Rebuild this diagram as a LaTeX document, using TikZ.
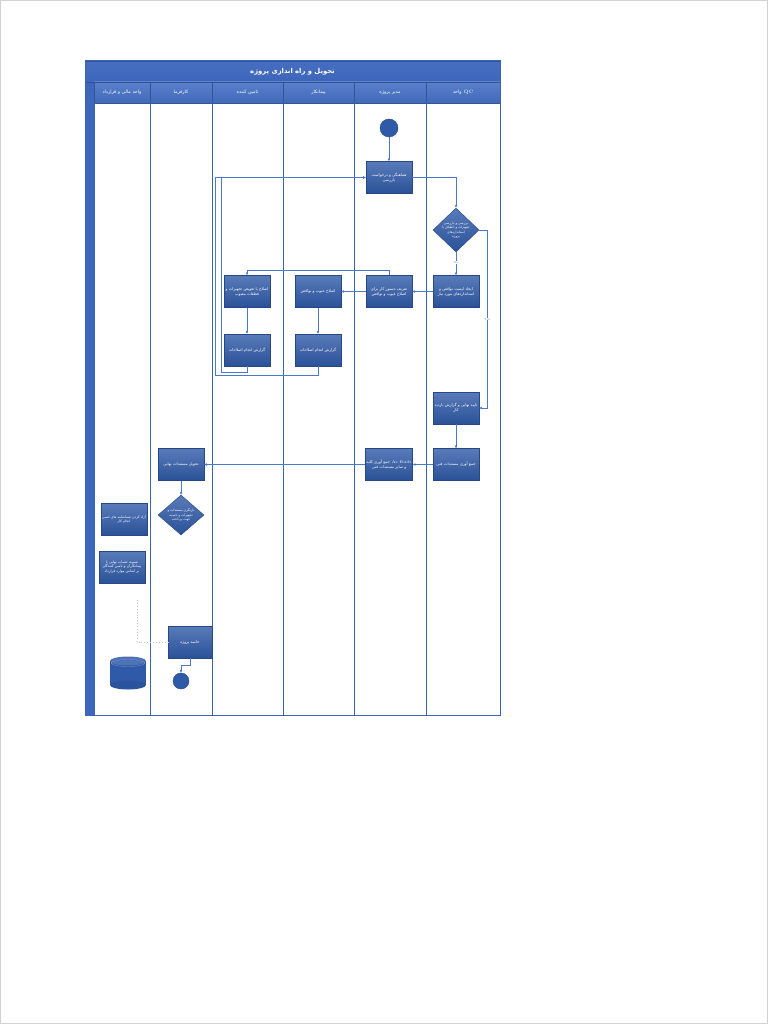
\documentclass[tikz,border=0pt]{standalone}
\usepackage{fontspec}
\usetikzlibrary{shapes.geometric,arrows.meta}
\newfontfamily\arabicfont[Script=Arabic]{DejaVu Sans}
\TeXXeTstate=1
\newcommand{\fa}[1]{{\arabicfont\beginR #1\endR}}
\definecolor{poolblue}{HTML}{3D66BC}
\definecolor{boxblue}{HTML}{2F5AA8}
\definecolor{linkblue}{HTML}{4A78CC}
\definecolor{laneline}{HTML}{3B64B5}
\definecolor{headtop}{HTML}{5A80CC}
\definecolor{headbot}{HTML}{4169B8}

\begin{document}
\begin{tikzpicture}[x=1pt,y=-1pt,
					every node/.style={text=white,align=center,inner sep=1pt,font=\fontsize{3.9}{5}\selectfont},
					box/.style={rectangle,draw=boxblue!80!black,top color=boxblue!80!white,bottom color=boxblue!90!black,minimum width=46pt,minimum height=32pt},
					decision/.style={diamond,draw=boxblue!80!black,top color=boxblue!80!white,bottom color=boxblue!90!black,minimum width=46pt,minimum height=44pt,aspect=1.05,inner sep=0pt,font=\fontsize{3.3}{4.3}\selectfont},
					terminal/.style={circle,draw=boxblue!80!black,fill=boxblue,minimum size=18pt},
					header/.style={rectangle,draw=headbot!80!black,top color=headtop,bottom color=headbot,minimum height=21pt,font=\fontsize{4.7}{5.3}\selectfont},
					answer/.style={text=gray,fill=white,inner sep=0.4pt,font=\fontsize{3}{3.5}\selectfont},
					flow/.style={draw=linkblue,line width=0.9pt,-{Latex[length=2.6pt,width=2.6pt]}}]
	\useasboundingbox (0,0) rectangle (768,1024);
	\draw [gray!35] (0.5,0.5) rectangle (767.5,1023.5);
	\fill [poolblue] (85,82) rectangle (94,715);
	\node [header,minimum width=415pt,minimum height=21pt,draw=poolblue!80!black,top color=poolblue!95!white,bottom color=poolblue,font=\fontsize{6.8}{7.5}\selectfont\bfseries] (T) at (292.5,71.5) {\fa{تحویل و راه اندازی پروژه}};
	\node [header,minimum width=56pt] (H1) at (122,92.5) {\fa{واحد مالی و قرارداد}};
	\node [header,minimum width=62pt] (H2) at (181,92.5) {\fa{کارفرما}};
	\node [header,minimum width=71pt] (H3) at (247.5,92.5) {\fa{تامین کننده}};
	\node [header,minimum width=71pt] (H4) at (318.5,92.5) {\fa{پیمانکار}};
	\node [header,minimum width=72pt] (H5) at (390,92.5) {\fa{مدیر پروژه}};
	\node [header,minimum width=74pt] (H6) at (463,92.5) {\fa{واحد}~QC};
	\foreach \x in {94,150,212,283,354,426}
		\draw [laneline,line width=0.9pt] (\x,103) -- (\x,715);
	\draw [laneline,line width=1pt] (85,61) rectangle (500,715);

	\node [terminal] (S) at (389,128) {};
	\node [box] (I) at (389,177.5) {\fa{هماهنگی و درخواست}\\\fa{بازرسی}};
	\node [decision] (C) at (456,230) {\fa{بررسی و بازرسی}\\\fa{تجهیزات و انطباق با}\\\fa{استانداردهای}\\\fa{پروژه}};
	\node [box] (D) at (456,291.5) {\fa{ایجاد لیست نواقص و}\\\fa{استانداردهای مورد نیاز}};
	\node [box] (O) at (389,291.5) {\fa{تعریف دستور کار برای}\\\fa{اصلاح عیوب و نواقص}};
	\node [box] (FC) at (318,291.5) {\fa{اصلاح عیوب و نواقص}};
	\node [box] (FS) at (247,291.5) {\fa{اصلاح یا تعویض تجهیزات و}\\\fa{قطعات معیوب}};
	\node [box] (RS) at (247,350) {\fa{گزارش انجام اصلاحات}};
	\node [box] (RC) at (318,350) {\fa{گزارش انجام اصلاحات}};
	\node [box] (F) at (456,408) {\fa{تایید نهایی و گزارش بازدید}\\\fa{کار}};
	\node [box] (Q) at (456,464.5) {\fa{جمع آوری مستندات فنی}};
	\node [box] (P) at (389,464.5) {\fa{جمع آوری کلیه}~As Built\\\fa{و سایر مستندات فنی}};
	\node [box] (H) at (181,464.5) {\fa{تحویل مستندات نهایی}};
	\node [decision,minimum height=40pt] (R) at (181,515) {\fa{بازنگری مستندات و}\\\fa{تجهیزات و تاییدیه}\\\fa{جهت پرداخت}};
	\node [box,font=\fontsize{3.4}{4.6}\selectfont] (B) at (124,519.5) {\fa{آزاد کردن ضمانتنامه های حسن}\\\fa{انجام کار}};
	\node [box,font=\fontsize{3.6}{4.7}\selectfont] (A) at (122,567) {\fa{تسویه حساب نهایی با}\\\fa{پیمانکاران و تامین کنندگان}\\\fa{بر اساس موارد قرارداد}};
	\node [box,minimum width=44pt] (K) at (190,642) {\fa{خاتمه پروژه}};
	\node [terminal,minimum size=16pt] (E) at (181,681) {};
	\coordinate (G) at (137,600);

	\fill [boxblue] (110,661) rectangle (146,685);
	\fill [boxblue!92!black] (128,685) ellipse [x radius=18,y radius=4.5];
	\fill [boxblue!85!white] (128,661) ellipse [x radius=18,y radius=4.5];
	\draw [boxblue!70!white,line width=0.4pt] (128,663) ellipse [x radius=17,y radius=3.5];

	\path [flow] (S) edge (I);
	\draw [flow] (I.east) -| (C.north);
	\draw [flow] (C.south) -- node [answer,pos=0.45] {No} (D.north);
	\draw [flow] (C.east) -- ++(8,0) |- node [answer,pos=0.25] {Yes} (F.east);
	\path [flow] (D) edge (O);
	\path [flow] (O) edge (FC);
	\draw [flow] (O.north) -- ++(0,-5) -| (FS.north);
	\path [flow] (FC) edge (RC);
	\path [flow] (FS) edge (RS);
	\draw [flow] (RC.south) |- (215,375) |- (I.west);
	\draw [flow] (RS.south) |- (221,372) |- (I.west);
	\path [flow] (F) edge (Q);
	\path [flow] (Q) edge (P);
	\path [flow] (P) edge (H);
	\path [flow] (H) edge (R);
	\draw [gray!45,line width=0.9pt,dotted] (G) |- (K.west);
	\draw [flow] (K.south) -- ++(0,7) -| (E.north);
\end{tikzpicture}
\end{document}
